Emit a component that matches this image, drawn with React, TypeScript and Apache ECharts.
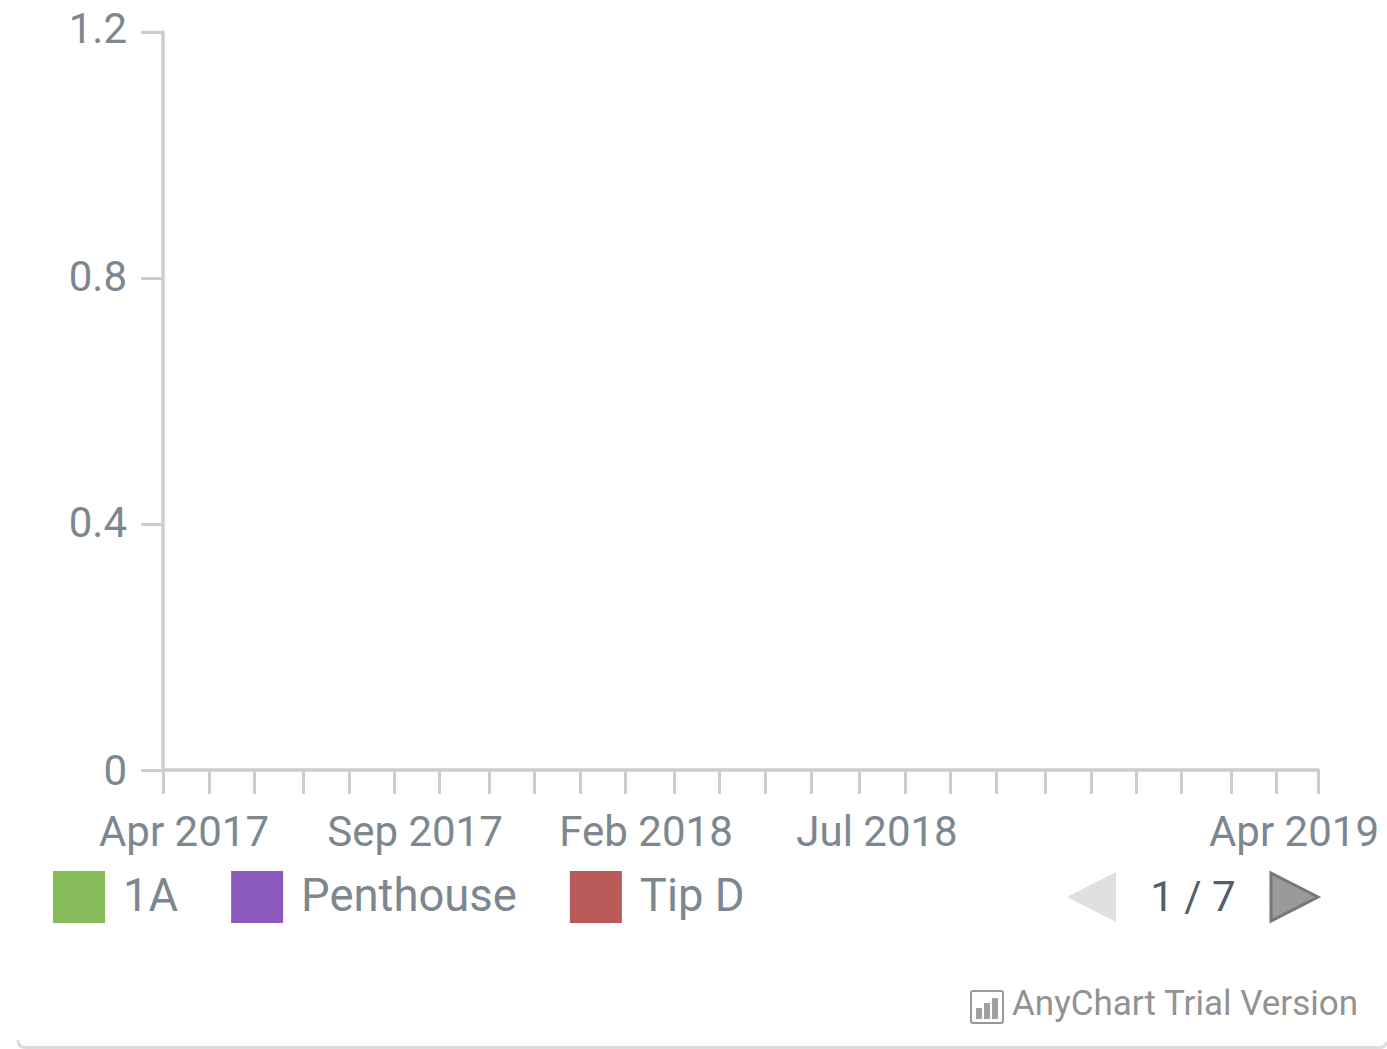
import React, { useEffect, useRef } from "react";
import * as echarts from "echarts";

const seriesNames = ["1A", "Penthouse", "Tip D"];
const seriesColors = ["#86bb5a", "#8b59bb", "#b95a58"];
const yTicks = [0, 0.4, 0.8, 1.2];
// Month boundaries along the axis, in axis units
const xTicks = [0, 46, 91, 140, 186, 231, 276, 326, 371, 417, 462, 511, 556, 602, 648, 696, 742, 787, 833, 882, 928, 973, 1018, 1068, 1113, 1155];
const xLabelAt = [21, 252, 483, 714, 1131];
const xLabelText = ["Apr 2017", "Sep 2017", "Feb 2018", "Jul 2018", "Apr 2019"];
const pageText = "1 / 7";
const watermark = "AnyChart Trial Version";

const FONT = "Roboto";
const AXIS = "#cdcdcd";
const TEXT = "#7c8790";

export default function App() {
  const ref = useRef<HTMLDivElement>(null);
  useEffect(() => {
    const chart = echarts.init(ref.current!, undefined, { renderer: "svg" });
    chart.setOption({
      animation: false,
      backgroundColor: "#ffffff",
      grid: { left: 163, top: 32, width: 1155, height: 738, containLabel: false },
      legend: {
        type: "plain",
        left: 53,
        top: 871,
        orient: "horizontal",
        itemWidth: 52,
        itemHeight: 52,
        itemGap: 53,
        icon: "rect",
        data: seriesNames,
        formatter: (name: string) => `{t|${name}}`,
        textStyle: {
          fontFamily: FONT,
          fontSize: 45.4,
          color: TEXT,
          rich: { t: { fontFamily: FONT, fontSize: 45.4, color: TEXT, padding: [0, 0, 4, 13] } },
        },
        padding: 0,
      },
      xAxis: {
        type: "value",
        min: 0,
        max: 1155,
        splitLine: { show: false },
        axisLine: { show: true, onZero: false, lineStyle: { color: AXIS, width: 3.5 } },
        axisTick: { show: true, length: 24, customValues: xTicks, lineStyle: { color: AXIS, width: 3 } },
        axisLabel: {
          show: true,
          customValues: xLabelAt,
          margin: 40,
          hideOverlap: false,
          fontFamily: FONT,
          fontSize: 42,
          color: TEXT,
          formatter: (v: number) => xLabelText[xLabelAt.indexOf(v)] ?? "",
        },
      },
      yAxis: {
        type: "value",
        min: 0,
        max: 1.2,
        interval: 0.4,
        splitLine: { show: false },
        axisLine: { show: true, lineStyle: { color: AXIS, width: 3.5 } },
        axisTick: { show: true, length: 22, lineStyle: { color: AXIS, width: 3 } },
        axisLabel: {
          margin: 36,
          fontFamily: FONT,
          fontSize: 42,
          color: TEXT,
          formatter: (v: number) => {
            const t = yTicks.find((y) => Math.abs(y - v) < 1e-6) ?? v;
            return t === 0 ? String(t) : t === 1.2 ? `{top|${t}}` : `{mid|${t}}`;
          },
          rich: {
            top: { fontFamily: FONT, fontSize: 42, color: TEXT, padding: [0, 0, 8, 0] },
            mid: { fontFamily: FONT, fontSize: 42, color: TEXT, padding: [0, 0, 4, 0] },
          },
        },
      },
      series: seriesNames.map((name, i) => ({
        name,
        type: "bar",
        data: [],
        itemStyle: { color: seriesColors[i] },
      })),
      graphic: [
        { type: "polygon", shape: { points: [[1067, 897], [1116, 872], [1116, 922]] }, style: { fill: "#e0e0e0" } },
        { type: "polygon", shape: { points: [[1271, 873], [1318, 897], [1271, 921]] }, style: { fill: "#9a9a9a", stroke: "#777777", lineWidth: 3 } },
        { type: "text", x: 1193, y: 896, style: { text: pageText, fontFamily: FONT, fontSize: 42, fill: "#545f69", align: "center", verticalAlign: "middle" } },
        { type: "rect", shape: { x: 971, y: 991, width: 32, height: 32, r: 2 }, style: { fill: "#ffffff", stroke: "#999999", lineWidth: 2 } },
        { type: "rect", shape: { x: 976, y: 1008, width: 6, height: 11 }, style: { fill: "#a0a0a0" } },
        { type: "rect", shape: { x: 984, y: 1003, width: 6, height: 16 }, style: { fill: "#a0a0a0" } },
        { type: "rect", shape: { x: 992, y: 998, width: 6, height: 21 }, style: { fill: "#a0a0a0" } },
        { type: "text", x: 1012, y: 1003, style: { text: watermark, fontFamily: FONT, fontSize: 35, fill: "#929292", align: "left", verticalAlign: "middle" } },
        { type: "line", shape: { x1: 26, y1: 1047.5, x2: 1380, y2: 1047.5 }, style: { stroke: "#dcdcdc", lineWidth: 3 } },
        { type: "bezierCurve", shape: { x1: 18, y1: 1040, cpx1: 18, cpy1: 1045, cpx2: 21, cpy2: 1047.5, x2: 26, y2: 1047.5 }, style: { stroke: "#dcdcdc", lineWidth: 3, fill: "none" } },
        { type: "bezierCurve", shape: { x1: 1380, y1: 1047.5, cpx1: 1384, cpy1: 1047.5, cpx2: 1386, cpy2: 1045, x2: 1387, y2: 1042 }, style: { stroke: "#dcdcdc", lineWidth: 3, fill: "none" } },
      ],
    });
    return () => chart.dispose();
  }, []);
  return <div ref={ref} style={{ position: "fixed", left: 0, top: 0, width: 1387, height: 1049 }} />;
}
